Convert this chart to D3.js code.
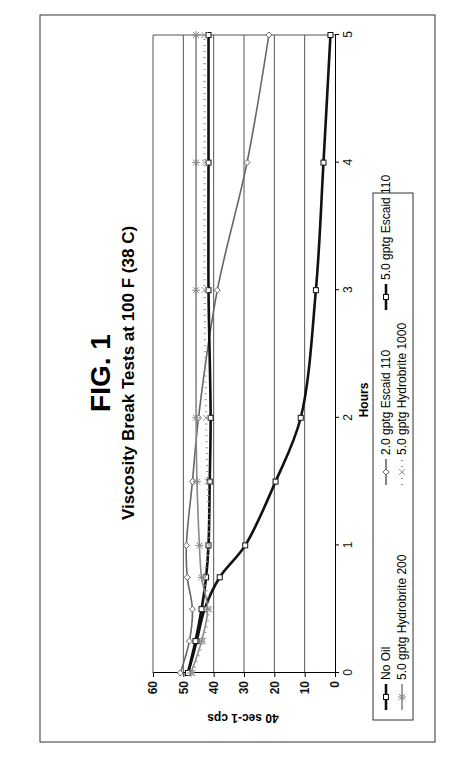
<!DOCTYPE html>
<meta charset="utf-8">
<style>
  body { margin: 0; background: #fff; }
  svg { font-family: "Liberation Sans", Arial, sans-serif; }
</style>
<body>
<svg width="474" height="758"></svg>
<script src="https://d3js.org/d3.v7.min.js"></script>
<script>
  var hours = [0, 0.25, 0.5, 0.75, 1, 1.5, 2, 3, 4, 5];
  var noOil =       [48.4, 45.6, 43, 38, 29.6, 19.6, 11.3, 6.3, 3.8, 1.5];
  var escaid2 =     [51, 48, 47, 48.7, 49, 47, 45, 38.8, 29, 21.8];
  var escaid5 =     [48.5, 46, 44, 42.5, 41.7, 41.3, 41, 41.7, 41.7, 41.7];
  var hydro200 =    [47.5, 44, 42, 44, 44.7, 45.5, 45.8, 45.8, 45.8, 45.8];
  var hydro1000 =   [47, 43.5, 41.5, 43, 41.5, 42, 42.5, 43, 43, 43];
  var names = ["No Oil", "2.0 gptg Escaid 110", "5.0 gptg Escaid 110",
               "5.0 gptg Hydrobrite 200", "5.0 gptg Hydrobrite 1000"];
  var yTicks = [0, 10, 20, 30, 40, 50, 60];
  var xTicks = [0, 1, 2, 3, 4, 5];

  var series = [
    {name: names[0], vals: noOil, color: "#111", width: 2.6, marker: "square", dash: null},
    {name: names[1], vals: escaid2, color: "#666", width: 1.6, marker: "diamond", dash: null},
    {name: names[2], vals: escaid5, color: "#111", width: 2.6, marker: "square", dash: null},
    {name: names[3], vals: hydro200, color: "#888", width: 1.6, marker: "star", dash: null},
    {name: names[4], vals: hydro1000, color: "#999", width: 1.6, marker: "x", dash: "1,5"}
  ];

  var svg = d3.select("svg");
  // whole figure is rotated: draw in a 758x474 frame then turn it
  var g = svg.append("g").attr("transform", "translate(0,758) rotate(-90)");

  g.append("rect").attr("x", 16).attr("y", 40).attr("width", 727).attr("height", 395)
    .attr("fill", "none").attr("stroke", "#333").attr("stroke-width", 1);

  var x = d3.scaleLinear().domain([0, 5]).range([85, 723]);
  var y = d3.scaleLinear().domain([0, 60]).range([335, 153]);

  g.selectAll(".grid").data(yTicks.slice(1)).enter().append("line")
    .attr("x1", x(0)).attr("x2", x(5)).attr("y1", d => y(d)).attr("y2", d => y(d))
    .attr("stroke", "#555").attr("stroke-width", 1);
  g.append("line").attr("x1", x(5)).attr("x2", x(5)).attr("y1", y(0)).attr("y2", y(60))
    .attr("stroke", "#555");

  g.append("g").attr("transform", "translate(0," + y(0) + ")")
    .call(d3.axisBottom(x).tickValues(xTicks).tickFormat(d3.format("d")).tickSize(4).tickPadding(4))
    .call(a => a.selectAll("text").attr("font-size", 12).attr("fill", "#111"));
  g.append("g").attr("transform", "translate(" + x(0) + ",0)")
    .call(d3.axisLeft(y).tickValues(yTicks).tickSize(4).tickPadding(4))
    .call(a => a.selectAll("text").attr("font-size", 12).attr("font-weight", "bold").attr("fill", "#111"));

  g.append("text").attr("x", 385).attr("y", 110).attr("text-anchor", "middle")
    .attr("font-size", 28).attr("font-weight", "bold").text("FIG. 1");
  g.append("text").attr("x", 385).attr("y", 134).attr("text-anchor", "middle")
    .attr("font-size", 17).attr("font-weight", "bold").text("Viscosity Break Tests at 100 F (38 C)");
  g.append("text").attr("x", 358).attr("y", 368).attr("text-anchor", "middle")
    .attr("font-size", 12).attr("font-weight", "bold").text("Hours");
  g.append("text").attr("transform", "translate(44,243) rotate(-90)").attr("text-anchor", "middle")
    .attr("font-size", 12).attr("font-weight", "bold").text("40 sec-1 cps");

  var line = d3.line().x((d, i) => x(hours[i])).y(d => y(d)).curve(d3.curveCatmullRom);

  function marker(sel, s, px, py) {
    var m = sel.append("g").attr("transform", "translate(" + px + "," + py + ")")
      .attr("fill", "none").attr("stroke", s.color).attr("stroke-width", 1);
    if (s.marker === "square") m.append("rect").attr("x", -2.5).attr("y", -2.5).attr("width", 5).attr("height", 5).attr("fill", "#fff");
    if (s.marker === "diamond") m.append("path").attr("d", "M0,-3L3,0L0,3L-3,0Z").attr("fill", "#fff");
    if (s.marker === "star") m.append("path").attr("d", "M-4,0H4M0,-4V4M-3,-3L3,3M-3,3L3,-3");
    if (s.marker === "x") m.append("path").attr("d", "M-3,-3L3,3M-3,3L3,-3");
  }

  series.forEach(function(s) {
    g.append("path").datum(s.vals).attr("d", line).attr("fill", "none")
      .attr("stroke", s.color).attr("stroke-width", s.dash ? 2.4 : s.width)
      .attr("stroke-dasharray", s.dash);
    s.vals.forEach((v, i) => marker(g, s, x(hours[i]), y(v)));
  });

  // legend
  g.append("rect").attr("x", 38).attr("y", 373).attr("width", 527).attr("height", 40)
    .attr("fill", "none").attr("stroke", "#333");
  var pos = [[48, 386], [273, 386], [448, 386], [48, 402], [273, 402]];
  series.forEach(function(s, i) {
    var p = pos[i];
    g.append("line").attr("x1", p[0]).attr("x2", p[0] + 26).attr("y1", p[1]).attr("y2", p[1])
      .attr("stroke", s.color).attr("stroke-width", s.dash ? 2.4 : s.width).attr("stroke-dasharray", s.dash);
    marker(g, s, p[0] + 13, p[1]);
    g.append("text").attr("x", p[0] + 30).attr("y", p[1] + 4).attr("font-size", 12).text(s.name);
  });
</script>
</body>
